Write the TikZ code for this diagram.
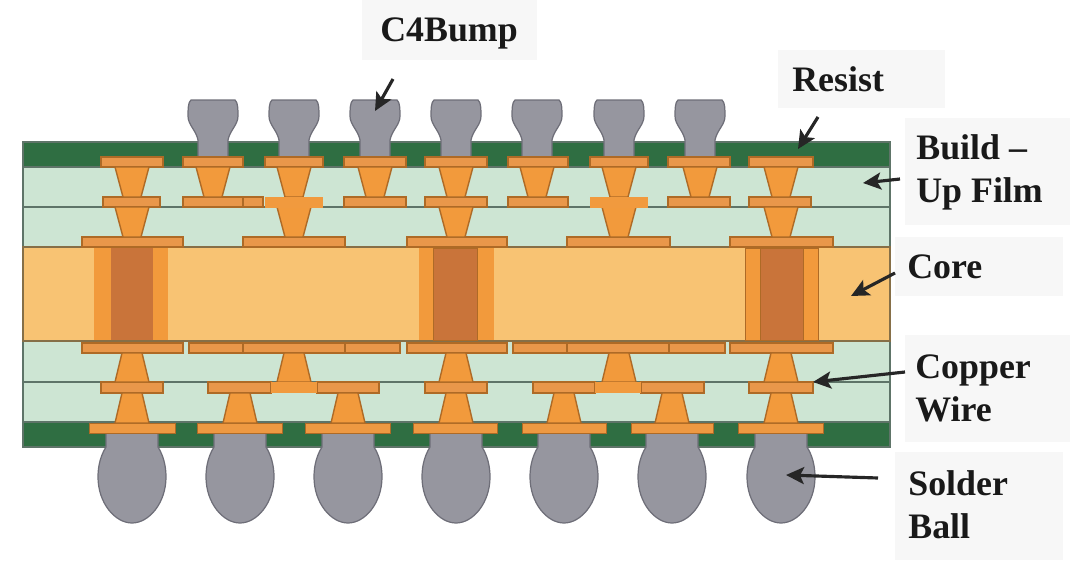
\documentclass[tikz,border=0pt]{standalone}
\usepackage{fontspec}
\setmainfont{Liberation Serif}
\usetikzlibrary{arrows.meta}
\definecolor{Resist}{HTML}{2F6E42}
\definecolor{Film}{HTML}{CDE5D3}
\definecolor{Core}{HTML}{F8C373}
\definecolor{Plating}{HTML}{F29A3C}
\definecolor{Barrel}{HTML}{C9743A}
\definecolor{Copper}{HTML}{E9974A}
\definecolor{CopperEdge}{HTML}{AE6A26}
\definecolor{Solder}{HTML}{96969F}
\definecolor{SolderEdge}{HTML}{6E6E78}
\definecolor{Edge}{HTML}{5E7468}
\definecolor{Tag}{HTML}{F7F7F7}

\begin{document}
\begin{tikzpicture}[x=0.02cm,y=-0.02cm,
    layer/.style={draw=Edge, line width=0.9pt},
    via/.style={fill=Plating, draw=CopperEdge, line width=0.8pt},
    pad/.style={fill=Copper, draw=CopperEdge, line width=0.8pt},
    padjoin/.style={fill=Plating!85!Copper},
    ball/.style={fill=Solder, draw=SolderEdge, line width=0.7pt},
    tagbox/.style={fill=Tag},
    tagtext/.style={font=\bfseries\fontsize{20.4}{24.4}\selectfont, text=black!90, inner sep=0pt, align=left, anchor=west},
    pointer/.style={-{Stealth[length=3.6mm,width=3.4mm,inset=0.8mm]}, line width=1.8pt, draw=black!85}
]
\useasboundingbox (0,0) rectangle (1071,561);

% label backgrounds
\fill[tagbox] (362,0) rectangle (537,60);
\fill[tagbox] (778,50) rectangle (945,108);
\fill[tagbox] (905,118) rectangle (1070,225);
\fill[tagbox] (895,237) rectangle (1063,296);
\fill[tagbox] (905,335) rectangle (1070,442);
\fill[tagbox] (895,452) rectangle (1063,560);

% layers
\draw[layer, fill=Film] (23,167) rectangle (890,207);
\draw[layer, fill=Film] (23,207) rectangle (890,247);
\draw[layer, fill=Film] (23,341) rectangle (890,382);
\draw[layer, fill=Film] (23,382) rectangle (890,422);
\draw[layer, fill=Core, draw=Edge!50!CopperEdge] (23,247) rectangle (890,341);
\draw[layer, fill=Resist] (23,142) rectangle (890,167);
\draw[layer, fill=Resist] (23,422) rectangle (890,447);

% through holes
\fill[Plating] (94,248) rectangle (168,340);
\fill[Barrel] (111,248) rectangle (153,340);
\fill[Plating] (419,248) rectangle (494,340);
\draw[fill=Barrel, draw=CopperEdge] (433,248) rectangle (477,340);
\draw[fill=Plating, draw=CopperEdge] (745,248) rectangle (818,340);
\draw[fill=Barrel, draw=CopperEdge] (760,248) rectangle (803,340);

% top bumps
\foreach \x in {213,294,375,456,537,619,700}
  \draw[ball] (\x-22,100) -- (\x+22,100) .. controls (\x+25,102) and (\x+25,110) .. (\x+25,116) .. controls (\x+25,125) and (\x+17,130) .. (\x+15,140) -- (\x+15,157) -- (\x-15,157) -- (\x-15,140) .. controls (\x-17,130) and (\x-25,125) .. (\x-25,116) .. controls (\x-25,110) and (\x-25,102) .. (\x-22,100) -- cycle;

% solder balls
\foreach \x in {132,240,348,456,564,672,781}
  \draw[ball] (\x-26,433) -- (\x+26,433) -- (\x+26,447) .. controls (\x+31,455) and (\x+34,465) .. (\x+34,477) .. controls (\x+34,503) and (\x+17,523) .. (\x,523) .. controls (\x-17,523) and (\x-34,503) .. (\x-34,477) .. controls (\x-34,465) and (\x-31,455) .. (\x-26,447) -- cycle;

% pads, top side
\foreach \a/\b in {101/163,183/243,265/323,344/406,425/487,508/568,590/648,668/730,749/813}
  \draw[pad] (\a,157) rectangle (\b,167);
\foreach \a/\b in {103/160,183/243,243/263,344/406,425/487,508/568,668/730,749/811}
  \draw[pad] (\a,197) rectangle (\b,207);
\foreach \a/\b in {82/183,243/345,407/507,567/670,730/833}
  \draw[pad] (\a,237) rectangle (\b,247);

% vias, top side
\foreach \x in {132,213,294,375,456,537,619,700,781}
  \draw[via] (\x-17,167) -- (\x+17,167) -- (\x+9,197) -- (\x-9,197) -- cycle;
\foreach \x in {132,294,456,619,781}
  \draw[via] (\x-17,207) -- (\x+17,207) -- (\x+9,237) -- (\x-9,237) -- cycle;
\fill[padjoin] (265,197) rectangle (323,208);
\fill[padjoin] (590,197) rectangle (648,208);

% pads, bottom side
\foreach \a/\b in {82/183,189/243,243/345,345/400,407/507,513/567,567/669,669/725,730/833}
  \draw[pad] (\a,343) rectangle (\b,353);
\foreach \a/\b in {101/163,208/271,317/379,425/487,533/595,641/704,749/813}
  \draw[pad] (\a,382) rectangle (\b,393);
\foreach \a/\b in {89/175,197/282,305/390,413/497,522/606,631/713,738/823}
  \draw[pad, fill=Plating!60!Copper, line width=0.4pt] (\a,423) rectangle (\b,433);

% vias, bottom side
\foreach \x in {132,294,456,619,781}
  \draw[via] (\x-10,353) -- (\x+10,353) -- (\x+17,382) -- (\x-17,382) -- cycle;
\foreach \x in {132,240,348,456,564,672,781}
  \draw[via] (\x-10,393) -- (\x+10,393) -- (\x+17,423) -- (\x-17,423) -- cycle;
\fill[padjoin] (271,382) rectangle (317,393);
\fill[padjoin] (595,382) rectangle (641,393);

% labels
\node[tagtext] (c4label) at (380,33) {C4Bump};
\node[tagtext] (resistlabel) at (792,79) {Resist};
\node[tagtext] (filmlabel) at (916,172) {Build --\\Up Film};
\node[tagtext] (corelabel) at (907,267) {Core};
\node[tagtext] (wirelabel) at (915,388) {Copper\\Wire};
\node[tagtext] (balllabel) at (908,505) {Solder\\Ball};

\coordinate (bumptip) at (375,111);
\coordinate (resisttip) at (798,149);
\coordinate (filmtip) at (863,183);
\coordinate (coretip) at (851,296);
\coordinate (wiretip) at (813,382);
\coordinate (balltip) at (786,475);

\draw[pointer] ([shift={(13,30)}]c4label.south west) -- (bumptip);
\draw[pointer] ([shift={(26,25)}]resistlabel.south west) -- (resisttip);
\draw[pointer] ([shift={(-16,7)}]filmlabel.west) -- (filmtip);
\draw[pointer] ([shift={(-12,6)}]corelabel.west) -- (coretip);
\draw[pointer] ([shift={(-10,-16)}]wirelabel.west) -- (wiretip);
\draw[pointer] ([shift={(-30,-27)}]balllabel.west) -- (balltip);
\end{tikzpicture}
\end{document}
